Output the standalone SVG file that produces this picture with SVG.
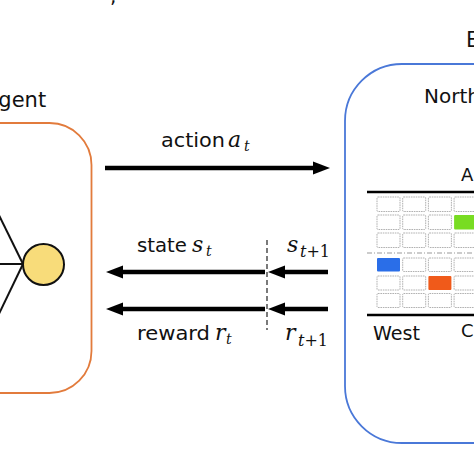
<svg xmlns="http://www.w3.org/2000/svg" width="474" height="474" viewBox="0 0 474 474">
<style>
.lbl{font-family:"DejaVu Sans","Liberation Sans",sans-serif;fill:#111}
.m{font-family:"DejaVu Serif","Liberation Serif",serif;font-style:italic;fill:#111}
.arr{stroke:#000;stroke-width:4.5;fill:none}
.cell{fill:#fff;stroke:#a8a8a8;stroke-width:0.9;stroke-dasharray:1.6 0.8}
.nn{stroke:#111;stroke-width:2;fill:none}
</style>
<rect width="474" height="474" fill="#fff"/>
<text class="lbl" x="110" y="3" font-size="20">,</text>
<g id="agent">
  <rect x="-60" y="123" width="151.5" height="270" rx="42" fill="none" stroke="#E27B3C" stroke-width="1.8"/>
  <text class="lbl" x="-16" y="107" font-size="21">Agent</text>
  <line class="nn" x1="-4" y1="209" x2="23" y2="264"/>
  <line class="nn" x1="-4" y1="264" x2="23" y2="264"/>
  <line class="nn" x1="-4" y1="320" x2="23" y2="264"/>
  <circle cx="43.5" cy="264.5" r="20.5" fill="#F8DC7A" stroke="#111" stroke-width="2"/>
</g>
<g id="environment">
  <rect x="345" y="64" width="200" height="379" rx="57" fill="none" stroke="#4A78D8" stroke-width="1.8"/>
  <text class="lbl" x="466" y="47" font-size="21">E</text>
  <text class="lbl" x="424" y="103" font-size="20">North</text>
  <text class="lbl" x="461" y="181" font-size="18">A</text>
  <line x1="367" y1="192" x2="480" y2="192" stroke="#000" stroke-width="2.5"/>
  <line x1="367" y1="315" x2="480" y2="315" stroke="#000" stroke-width="2.5"/>
  <line x1="367" y1="253" x2="480" y2="253" stroke="#999" stroke-width="1" stroke-dasharray="5 2 1 2"/>
  <g id="grid">
    <rect class="cell" x="377" y="197" width="23" height="14.5" rx="1"/>
    <rect class="cell" x="402.7" y="197" width="23" height="14.5" rx="1"/>
    <rect class="cell" x="428.4" y="197" width="23" height="14.5" rx="1"/>
    <rect class="cell" x="454.1" y="197" width="23" height="14.5" rx="1"/>
    <rect class="cell" x="377" y="215" width="23" height="14.5" rx="1"/>
    <rect class="cell" x="402.7" y="215" width="23" height="14.5" rx="1"/>
    <rect class="cell" x="428.4" y="215" width="23" height="14.5" rx="1"/>
    <rect x="454.1" y="215" width="23" height="14.5" rx="1" fill="#78DC22"/>
    <rect class="cell" x="377" y="233" width="23" height="14.5" rx="1"/>
    <rect class="cell" x="402.7" y="233" width="23" height="14.5" rx="1"/>
    <rect class="cell" x="428.4" y="233" width="23" height="14.5" rx="1"/>
    <rect class="cell" x="454.1" y="233" width="23" height="14.5" rx="1"/>
    <rect x="377" y="258" width="23" height="13.5" rx="1" fill="#2A6EE8"/>
    <rect class="cell" x="402.7" y="258" width="23" height="13.5" rx="1"/>
    <rect class="cell" x="428.4" y="258" width="23" height="13.5" rx="1"/>
    <rect class="cell" x="454.1" y="258" width="23" height="13.5" rx="1"/>
    <rect class="cell" x="377" y="276" width="23" height="14" rx="1"/>
    <rect class="cell" x="402.7" y="276" width="23" height="14" rx="1"/>
    <rect x="428.4" y="276" width="23" height="14" rx="1" fill="#F05A1A"/>
    <rect class="cell" x="454.1" y="276" width="23" height="14" rx="1"/>
    <rect class="cell" x="377" y="293.5" width="23" height="14" rx="1"/>
    <rect class="cell" x="402.7" y="293.5" width="23" height="14" rx="1"/>
    <rect class="cell" x="428.4" y="293.5" width="23" height="14" rx="1" stroke="#ddd"/>
    <rect class="cell" x="454.1" y="293.5" width="23" height="14" rx="1" stroke="#ddd"/>
  </g>
  <text class="lbl" x="373" y="340" font-size="20" textLength="47" lengthAdjust="spacingAndGlyphs">West</text>
  <text class="lbl" x="461" y="337" font-size="18">C</text>
</g>
<g id="connectors">
  <line class="arr" x1="105" y1="168" x2="316" y2="168"/>
  <polygon points="330,168 313,161.5 313,174.5" fill="#000"/>
  <line class="arr" x1="118" y1="272" x2="265" y2="272"/>
  <polygon points="106,272 123,265.5 123,278.5" fill="#000"/>
  <line class="arr" x1="280" y1="272" x2="328" y2="272"/>
  <polygon points="268,272 285,265.5 285,278.5" fill="#000"/>
  <line class="arr" x1="118" y1="309" x2="265" y2="309"/>
  <polygon points="106,309 123,302.5 123,315.5" fill="#000"/>
  <line class="arr" x1="280" y1="309" x2="328" y2="309"/>
  <polygon points="268,309 285,302.5 285,315.5" fill="#000"/>
  <line x1="267" y1="240" x2="267" y2="330" stroke="#333" stroke-width="1.3" stroke-dasharray="5 3"/>
</g>
<g id="labels">
  <text class="lbl" x="161" y="147" font-size="20" textLength="64" lengthAdjust="spacingAndGlyphs">action</text>
  <text class="m" x="228" y="147" font-size="22">a</text>
  <text class="m" x="244" y="151" font-size="14">t</text>
  <text class="lbl" x="137" y="252" font-size="20" textLength="50" lengthAdjust="spacingAndGlyphs">state</text>
  <text class="m" x="192" y="252" font-size="22">s</text>
  <text class="m" x="206" y="256" font-size="14">t</text>
  <text class="m" x="287" y="252" font-size="22">s</text>
  <text class="m" x="300" y="257" font-size="16" textLength="30" lengthAdjust="spacingAndGlyphs">t<tspan font-style="normal">+1</tspan></text>
  <text class="lbl" x="137" y="340" font-size="20" textLength="73" lengthAdjust="spacingAndGlyphs">reward</text>
  <text class="m" x="215" y="340" font-size="22">r</text>
  <text class="m" x="226" y="344" font-size="14">t</text>
  <text class="m" x="285" y="340" font-size="22">r</text>
  <text class="m" x="298" y="346" font-size="16" textLength="30" lengthAdjust="spacingAndGlyphs">t<tspan font-style="normal">+1</tspan></text>
</g>
</svg>
